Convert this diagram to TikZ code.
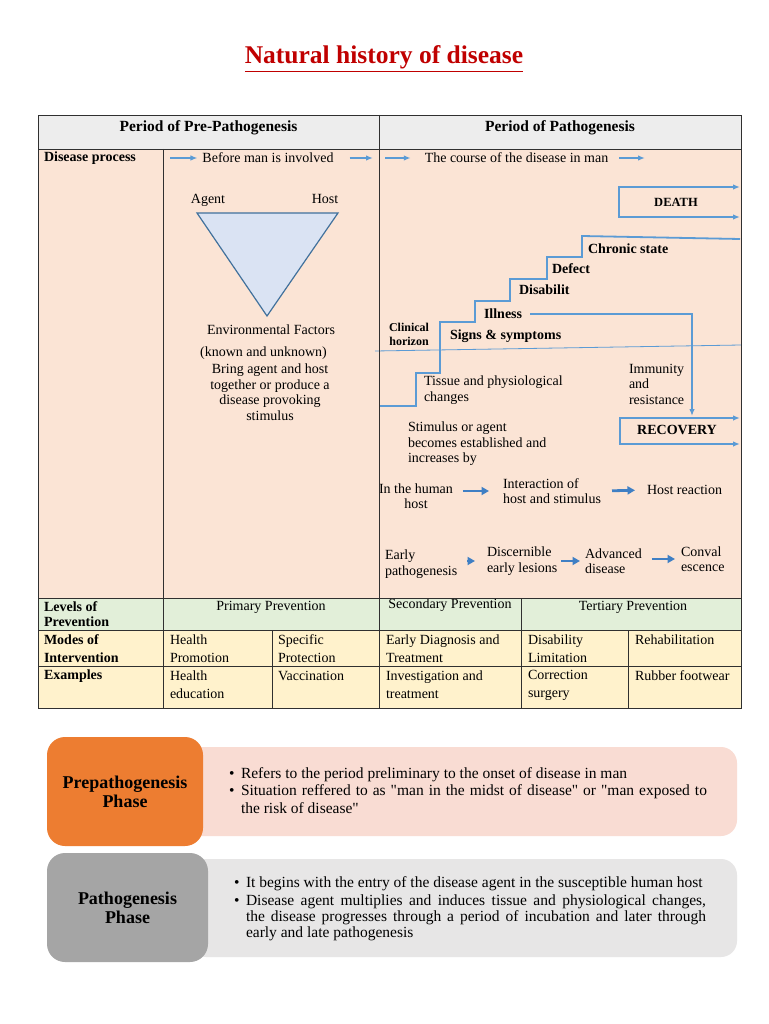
\documentclass[tikz,border=0pt]{standalone}
\usepackage{fontspec}
\setmainfont{Liberation Serif}[Ligatures=TeXOff]
\usetikzlibrary{arrows.meta,calc}
\definecolor{titlered}{HTML}{C00000}
\definecolor{hdrgray}{HTML}{EDEDED}
\definecolor{peach}{HTML}{FBE4D5}
\definecolor{lgreen}{HTML}{E2EFD9}
\definecolor{lyel}{HTML}{FFF2CC}
\definecolor{trifill}{HTML}{DAE3F3}
\definecolor{tristroke}{HTML}{41719C}
\definecolor{lblue}{HTML}{5B9BD5}
\definecolor{fblue}{HTML}{3F7FC4}
\definecolor{gridc}{HTML}{303030}
\definecolor{orangec}{HTML}{ED7D31}
\definecolor{pinkc}{HTML}{F9DCD3}
\definecolor{dgray}{HTML}{A5A5A5}
\definecolor{lgray}{HTML}{E7E6E6}
\begin{document}
\begin{tikzpicture}[x=1pt,y=-1pt,
  every node/.style={inner sep=0pt, outer sep=0pt},
  tx/.style={font=\fontsize{14}{15.5}\selectfont, align=left},
  txc/.style={font=\fontsize{14}{15.5}\selectfont, align=center},
  bx/.style={font=\fontsize{14}{15.5}\selectfont\bfseries, align=left},
  tb/.style={font=\fontsize{14}{18}\selectfont, align=left, anchor=west},
  tbb/.style={font=\fontsize{14}{18}\selectfont\bfseries, align=left, anchor=west},
  bt/.style={font=\fontsize{15.5}{16}\selectfont, anchor=west},
  phase/.style={font=\fontsize{18}{19}\selectfont\bfseries, align=center, anchor=north west},
  grid/.style={draw=gridc, line width=0.9pt},
  tarrow/.style={draw=lblue, line width=1.4pt, -{Latex[length=7pt,width=5.5pt]}},
  tarrowb/.style={draw=lblue, line width=1.4pt, {Latex[length=7pt,width=5.5pt]}-{Latex[length=7pt,width=5.5pt]}},
  flow/.style={draw=fblue, line width=2.8pt, -{Triangle[length=7.5pt,width=8pt]}},
  stair/.style={draw=lblue, line width=1.8pt},
]
\useasboundingbox (0,0) rectangle (768,1024);
\fill[white] (0,0) rectangle (768,1024);

% title
\node[font=\fontsize{25.5}{30}\selectfont\bfseries, text=titlered, anchor=base] (title) at (384,64) {\underline{Natural history of disease}};

% table fills
\fill[hdrgray] (38,115) rectangle (741,149);
\fill[peach] (38,149) rectangle (741,598);
\fill[lgreen] (38,598) rectangle (741,630);
\fill[lyel] (38,630) rectangle (741,708);

% headers
\node[font=\fontsize{15.5}{17}\selectfont\bfseries] (hdrL) at (208.5,128) {Period of Pre-Pathogenesis};
\node[font=\fontsize{15.5}{17}\selectfont\bfseries] (hdrR) at (560,128) {Period of Pathogenesis};

% disease process row
\node[bx, anchor=west] (dp) at (44,158) {Disease process};
\node[tx] (bmi) at (268,158) {Before man is involved};
\node[tx] (tcd) at (516.5,158) {The course of the disease in man};
\coordinate (a1s) at (170,158);
\coordinate (a2e) at (373,158);
\coordinate (a3s) at (385,158);
\coordinate (a4e) at (645,158);
\draw[tarrow, shorten >=5pt] (a1s) -- (bmi.west);
\draw[tarrow, shorten <=16pt] (bmi.east) -- (a2e);
\draw[tarrow, shorten >=14pt] (a3s) -- (tcd.west);
\draw[tarrow, shorten <=11pt] (tcd.east) -- (a4e);

% triangle
\draw[fill=trifill, draw=tristroke, line width=1.2pt, line join=miter] (197,213) -- (338,213) -- (267,316) -- cycle;
\node[tx] (agent) at (208,200) {Agent};
\node[tx] (host) at (325,199) {Host};
\node[tx] (env) at (271,330) {Environmental Factors};
\node[tx] (known) at (263.5,353) {(known and unknown)};
\node[txc] (bring) at (270,392) {Bring agent and host\\together or produce a\\disease provoking\\stimulus};

% staircase
\draw[stair] (379,406) -- (416,406) -- (416,373) -- (440,373) -- (440,322) -- (475,322) -- (475,301) -- (510,301) -- (510,279) -- (547,279) -- (547,257) -- (582,257) -- (582,236) -- (740,239);
% clinical horizon line
\draw[draw=lblue, line width=0.8pt] (375,351) -- (741,345);

\node[font=\fontsize{12}{14}\selectfont\bfseries, align=center] (clin) at (409,334) {Clinical\\horizon};
\node[bx, anchor=west] (sns) at (450,336) {Signs \& symptoms};
\node[bx, anchor=west] (ill) at (484,314) {Illness};
\node[bx, anchor=west] (dis) at (519,290) {Disabilit};
\node[bx, anchor=west] (def) at (552,269) {Defect};
\node[bx, anchor=west] (chr) at (588,249) {Chronic state};

% death box
\node[font=\fontsize{12.5}{14}\selectfont\bfseries] (death) at (676,202) {DEATH};
\coordinate (dt) at (740,187);
\coordinate (db) at (740,217);
\draw[tarrowb] (dt) -- (619,187) -- (619,217) -- (db);

% recovery box
\node[font=\fontsize{14}{16}\selectfont\bfseries] (recov) at (677,430) {RECOVERY};
\coordinate (rt) at (740,418);
\coordinate (rb) at (740,444);
\draw[tarrowb] (rt) -- (620,418) -- (620,444) -- (rb);
\coordinate (rtop) at (692,416);
\draw[tarrow, shorten <=8pt] (ill.east) -| (rtop);

\node[tx, anchor=west] (imm) at (629,384) {Immunity\\and\\resistance};
\node[tx, anchor=west] (tis) at (424,390) {Tissue and physiological\\changes};
\node[tx, anchor=west] (stim) at (408,444) {Stimulus or agent\\becomes established and\\increases by};

% host interaction
\node[txc] (human) at (416,496) {In the human\\host};
\node[tx, anchor=west] (inter) at (503,491) {Interaction of\\host and stimulus};
\node[tx, anchor=west] (hostr) at (647,490) {Host reaction};
\draw[flow, shorten <=10pt, shorten >=14pt] (human.east |- inter.west) -- (inter.west);
\draw[flow, shorten <=11pt, shorten >=12pt] (inter.east) -- (hostr.west);

% pathogenesis stages
\node[tx, anchor=west] (early) at (385,564) {Early\\pathogenesis};
\node[tx, anchor=west] (disc) at (487,561) {Discernible\\early lesions};
\node[tx, anchor=west] (adv) at (585,561) {Advanced\\disease};
\node[tx, anchor=west] (conv) at (681,559) {Conval\\escence};
\draw[flow, shorten <=10pt, shorten >=12pt] (early.east |- disc.west) -- (disc.west);
\draw[flow, shorten <=4pt, shorten >=5pt] (disc.east) -- (adv.west);
\draw[flow, shorten <=10pt, shorten >=6pt] (adv.east |- conv.west) -- (conv.west);

% levels of prevention
\node[font=\fontsize{14}{15}\selectfont\bfseries, align=left, anchor=west] (lev) at (44,614) {Levels of\\Prevention};
\node[font=\fontsize{14}{18}\selectfont] (prim) at (271,607) {Primary Prevention};
\node[font=\fontsize{14}{18}\selectfont] (sec) at (450,605) {Secondary Prevention};
\node[font=\fontsize{14}{18}\selectfont] (ter) at (633,607) {Tertiary Prevention};

% modes
\node[tbb] (modes) at (44,649) {Modes of\\Intervention};
\node[tb] (hp) at (170,649) {Health\\Promotion};
\node[tb] (sp) at (278,649) {Specific\\Protection};
\node[tb] (edt) at (386,649) {Early Diagnosis and\\Treatment};
\node[tb] (dl) at (528,649) {Disability\\Limitation};
\node[tb] (reh) at (635,640) {Rehabilitation};

% examples
\node[tbb] (ex) at (44,676) {Examples};
\node[tb] (he) at (170,685) {Health\\education};
\node[tb] (vac) at (278,676) {Vaccination};
\node[tb] (inv) at (386,685) {Investigation and\\treatment};
\node[tb] (cs) at (528,685) {Correction\\surgery};
\node[tb] (rf) at (635,676) {Rubber footwear};

% grid
\draw[grid] (38,115) rectangle (741,708);
\draw[grid] (38,149) -- (741,149);
\draw[grid] (38,598) -- (741,598);
\draw[grid] (38,630) -- (741,630);
\draw[grid] (38,666) -- (741,666);
\draw[grid] (379,115) -- (379,708);
\draw[grid] (163,149) -- (163,708);
\draw[grid] (521,598) -- (521,708);
\draw[grid] (272,630) -- (272,708);
\draw[grid] (628,630) -- (628,708);

% bottom boxes
\node[fill=pinkc, rounded corners=16pt, minimum width=552pt, minimum height=89pt, anchor=north west] (prebody) at (185,747) {};
\node[phase, fill=orangec, rounded corners=18pt, minimum width=156pt, minimum height=109pt] (prehead) at (47,737) {Prepathogenesis\\Phase};
\node[bt] (pb1) at (229,775) {\textbullet};
\node[bt] (pt1) at (241,775) {Refers to the period preliminary to the onset of disease in man};
\node[bt] (pb2) at (229,792) {\textbullet};
\node[bt] (pt2) at (241,792) {\makebox[466pt][s]{Situation reffered to as "man in the midst of disease" or "man exposed to}};
\node[bt] (pt3) at (241,808) {the risk of disease"};

\node[fill=lgray, rounded corners=16pt, minimum width=547pt, minimum height=98pt, anchor=north west] (patbody) at (190,859) {};
\node[phase, fill=dgray, rounded corners=18pt, minimum width=161pt, minimum height=109pt] (pathead) at (47,853) {Pathogenesis\\Phase};
\node[bt] (gb1) at (234,884) {\textbullet};
\node[bt] (gt1) at (246,884) {It begins with the entry of the disease agent in the susceptible human host};
\node[bt] (gb2) at (234,902) {\textbullet};
\node[bt] (gt2) at (246,902) {\makebox[460pt][s]{Disease agent multiplies and induces tissue and physiological changes,}};
\node[bt] (gt3) at (246,918) {\makebox[460pt][s]{the disease progresses through a period of incubation and later through}};
\node[bt] (gt4) at (246,934) {early and late pathogenesis};
\end{tikzpicture}
\end{document}
